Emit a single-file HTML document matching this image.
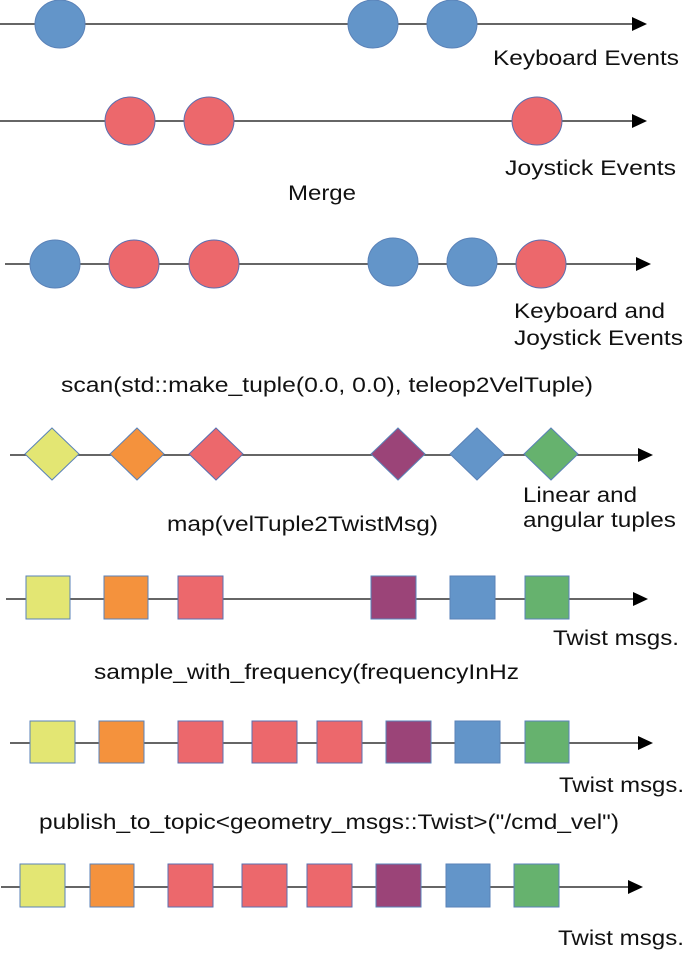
<!DOCTYPE html>
<html><head><meta charset="utf-8"><style>
html,body{margin:0;padding:0;background:#fff;}
svg{display:block;}
text{font-family:"Liberation Sans",sans-serif;font-size:21px;fill:#111;}
.l{stroke:#333;stroke-width:1.6;fill:none;}
.b{fill:#6395c9;stroke:#5a82b8;stroke-width:1;}
.r{fill:#ec686c;stroke:#5a6fb0;stroke-width:1;}
.y{fill:#e3e673;stroke:#5a82b8;stroke-width:1;}
.o{fill:#f4923d;stroke:#5a82b8;stroke-width:1;}
.p{fill:#9b4478;stroke:#5a82b8;stroke-width:1;}
.g{fill:#66b26e;stroke:#5a82b8;stroke-width:1;}
</style></head><body>
<svg width="685" height="953" viewBox="0 0 685 953" xmlns="http://www.w3.org/2000/svg">
<!-- Row 1 -->
<line class="l" x1="0" y1="24" x2="632" y2="24"/><polygon points="632,17 647,24 632,31" fill="#000"/>
<ellipse class="b" cx="60" cy="24" rx="25" ry="24"/>
<ellipse class="b" cx="373" cy="24" rx="25" ry="24"/>
<ellipse class="b" cx="452" cy="24" rx="25" ry="24"/>
<text x="493" y="65" textLength="186" lengthAdjust="spacingAndGlyphs">Keyboard Events</text>
<!-- Row 2 -->
<line class="l" x1="0" y1="121" x2="632" y2="121"/><polygon points="632,114 647,121 632,128" fill="#000"/>
<ellipse class="r" cx="130" cy="121" rx="25" ry="24"/>
<ellipse class="r" cx="209" cy="121" rx="25" ry="24"/>
<ellipse class="r" cx="537" cy="121" rx="25" ry="24"/>
<text x="505" y="175" textLength="171" lengthAdjust="spacingAndGlyphs">Joystick Events</text>
<text x="288" y="200" textLength="68" lengthAdjust="spacingAndGlyphs">Merge</text>
<!-- Row 3 -->
<line class="l" x1="5" y1="264" x2="636" y2="264"/><polygon points="636,257 651,264 636,271" fill="#000"/>
<ellipse class="b" cx="55" cy="264" rx="25" ry="24"/>
<ellipse class="r" cx="134" cy="264" rx="25" ry="24"/>
<ellipse class="r" cx="214" cy="264" rx="25" ry="24"/>
<ellipse class="b" cx="393" cy="262" rx="25" ry="24"/>
<ellipse class="b" cx="472" cy="262" rx="25" ry="24"/>
<ellipse class="r" cx="541" cy="264" rx="25" ry="24"/>
<text x="514" y="318" textLength="151" lengthAdjust="spacingAndGlyphs">Keyboard and</text>
<text x="514" y="345" textLength="169" lengthAdjust="spacingAndGlyphs">Joystick Events</text>
<text x="61" y="392" textLength="532" lengthAdjust="spacingAndGlyphs">scan(std::make_tuple(0.0, 0.0), teleop2VelTuple)</text>
<!-- Row 4 diamonds -->
<line class="l" x1="10" y1="455" x2="638" y2="455"/><polygon points="638,448 653,455 638,462" fill="#000"/>
<polygon class="y" points="52,428 79,454 52,480 25,454"/>
<polygon class="o" points="137,428 164,454 137,480 110,454"/>
<polygon class="r" points="216,428 243,454 216,480 189,454"/>
<polygon class="p" points="398,428 425,454 398,480 371,454"/>
<polygon class="b" points="477,428 504,454 477,480 450,454"/>
<polygon class="g" points="551,428 578,454 551,480 524,454"/>
<text x="523" y="502" textLength="114" lengthAdjust="spacingAndGlyphs">Linear and</text>
<text x="523" y="527" textLength="153" lengthAdjust="spacingAndGlyphs">angular tuples</text>
<text x="167" y="531" textLength="271" lengthAdjust="spacingAndGlyphs">map(velTuple2TwistMsg)</text>
<!-- Row 5 -->
<line class="l" x1="6" y1="599" x2="633" y2="599"/><polygon points="633,592 648,599 633,606" fill="#000"/>
<rect class="y" x="26" y="576" width="44" height="43"/>
<rect class="o" x="104" y="576" width="44" height="43"/>
<rect class="r" x="178" y="576" width="45" height="43"/>
<rect class="p" x="371" y="576" width="45" height="43"/>
<rect class="b" x="450" y="576" width="45" height="43"/>
<rect class="g" x="525" y="576" width="44" height="43"/>
<text x="553" y="645" textLength="126" lengthAdjust="spacingAndGlyphs">Twist msgs.</text>
<text x="94" y="679" textLength="425" lengthAdjust="spacingAndGlyphs">sample_with_frequency(frequencyInHz</text>
<!-- Row 6 -->
<line class="l" x1="10" y1="743" x2="638" y2="743"/><polygon points="638,736 653,743 638,750" fill="#000"/>
<rect class="y" x="30" y="721" width="45" height="42"/>
<rect class="o" x="99" y="721" width="45" height="42"/>
<rect class="r" x="178" y="721" width="45" height="42"/>
<rect class="r" x="252" y="721" width="45" height="42"/>
<rect class="r" x="317" y="721" width="45" height="42"/>
<rect class="p" x="386" y="721" width="45" height="42"/>
<rect class="b" x="455" y="721" width="45" height="42"/>
<rect class="g" x="525" y="721" width="44" height="42"/>
<text x="559" y="792" textLength="125" lengthAdjust="spacingAndGlyphs">Twist msgs.</text>
<text x="39" y="829" textLength="580" lengthAdjust="spacingAndGlyphs">publish_to_topic&lt;geometry_msgs::Twist&gt;("/cmd_vel")</text>
<!-- Row 7 -->
<line class="l" x1="1" y1="887" x2="628" y2="887"/><polygon points="628,880 643,887 628,894" fill="#000"/>
<rect class="y" x="20" y="864" width="45" height="43"/>
<rect class="o" x="90" y="864" width="44" height="43"/>
<rect class="r" x="168" y="864" width="45" height="43"/>
<rect class="r" x="242" y="864" width="45" height="43"/>
<rect class="r" x="307" y="864" width="45" height="43"/>
<rect class="p" x="376" y="864" width="45" height="43"/>
<rect class="b" x="446" y="864" width="44" height="43"/>
<rect class="g" x="514" y="864" width="45" height="43"/>
<text x="558" y="945" textLength="126" lengthAdjust="spacingAndGlyphs">Twist msgs.</text>
</svg>
</body></html>
